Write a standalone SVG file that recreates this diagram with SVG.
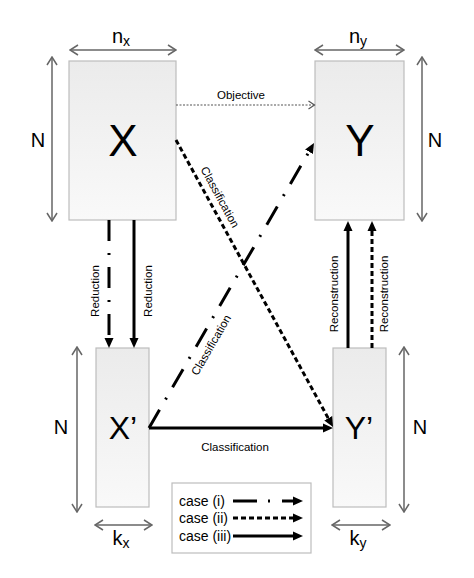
<svg xmlns="http://www.w3.org/2000/svg" width="474" height="578" viewBox="0 0 474 578">
<style>
text{font-family:"Liberation Sans",Arial,sans-serif;fill:#000}
.box{fill:url(#g);stroke:#bdbdbd;stroke-width:1.2}
.big{font-size:44px;text-anchor:middle}
.mid{font-size:32px;text-anchor:middle}
.dim{stroke:#666;stroke-width:1.5;fill:none;marker-start:url(#oa);marker-end:url(#oa)}
.dl{font-size:20px;text-anchor:middle}
.lab{font-size:11.5px;text-anchor:middle}
.leg{font-size:14px}
.c{stroke:#000;stroke-width:3;fill:none;marker-end:url(#ah)}
.dd{stroke-dasharray:21 12 2 12}
.dt{stroke-dasharray:5 3}
</style>
<defs>
<linearGradient id="g" x1="0" y1="0" x2="0" y2="1">
<stop offset="0" stop-color="#ebebeb"/>
<stop offset="1" stop-color="#f9f9f9"/>
</linearGradient>
<marker id="ah" markerUnits="userSpaceOnUse" viewBox="0 0 10 10" refX="2" refY="5" markerWidth="10" markerHeight="10" orient="auto">
<path d="M0,0.5 L10,5 L0,9.5 z" fill="#000"/>
</marker>
<marker id="oa" markerUnits="userSpaceOnUse" viewBox="0 0 10 12" refX="9" refY="6" markerWidth="10" markerHeight="12" orient="auto-start-reverse">
<path d="M1,1 L9,6 L1,11" fill="none" stroke="#666" stroke-width="1.5"/>
</marker>
<marker id="os" markerUnits="userSpaceOnUse" viewBox="0 0 8 10" refX="7.5" refY="5" markerWidth="8" markerHeight="10" orient="auto">
<path d="M1,1 L7,5 L1,9" fill="none" stroke="#555" stroke-width="1.2"/>
</marker>
</defs>

<g id="node-X">
<rect class="box" x="69" y="61" width="107" height="159"/>
<text class="big" x="123" y="156">X</text>
<line class="dim" x1="70" y1="50" x2="176" y2="50"/>
<text class="dl" x="121" y="43">n<tspan font-size="14" dy="3">x</tspan></text>
<line class="dim" x1="52" y1="57" x2="52" y2="221"/>
<text class="dl" x="38" y="147">N</text>
</g>

<g id="node-Y">
<rect class="box" x="315" y="61" width="89" height="159"/>
<text class="big" x="360" y="156">Y</text>
<line class="dim" x1="315" y1="50" x2="404" y2="50"/>
<text class="dl" x="358" y="43">n<tspan font-size="14" dy="3">y</tspan></text>
<line class="dim" x1="422" y1="57" x2="422" y2="221"/>
<text class="dl" x="435" y="147">N</text>
</g>

<g id="node-Xp">
<rect class="box" x="96" y="348" width="53" height="159"/>
<text class="mid" x="123" y="439">X’</text>
<line class="dim" x1="77" y1="347" x2="77" y2="512"/>
<text class="dl" x="61" y="434">N</text>
<line class="dim" x1="95" y1="525" x2="152" y2="525"/>
<text class="dl" x="121" y="545">k<tspan font-size="14" dy="3">x</tspan></text>
</g>

<g id="node-Yp">
<rect class="box" x="333" y="348" width="53" height="159"/>
<text class="mid" x="359" y="439">Y’</text>
<line class="dim" x1="404" y1="347" x2="404" y2="512"/>
<text class="dl" x="420" y="434">N</text>
<line class="dim" x1="332" y1="525" x2="390" y2="525"/>
<text class="dl" x="358" y="545">k<tspan font-size="14" dy="3">y</tspan></text>
</g>

<g id="connectors">
<line x1="176" y1="105" x2="315" y2="105" stroke="#555" stroke-width="1.2" stroke-dasharray="2 1.5" marker-end="url(#os)"/>
<text class="lab" x="241" y="99">Objective</text>

<line class="c dd" x1="109" y1="220" x2="109" y2="340"/>
<line class="c" x1="134" y1="220" x2="134" y2="340"/>
<text class="lab" transform="translate(99,291) rotate(-90)">Reduction</text>
<text class="lab" transform="translate(152,291) rotate(-90)">Reduction</text>

<line class="c" x1="348" y1="348" x2="348" y2="229"/>
<line class="c dt" x1="372" y1="348" x2="372" y2="229"/>
<text class="lab" transform="translate(338,294) rotate(-90)">Reconstruction</text>
<text class="lab" transform="translate(388,294) rotate(-90)">Reconstruction</text>

<line class="c" x1="149" y1="428" x2="325" y2="428"/>
<text class="lab" x="235" y="451">Classification</text>

<line class="c dd" x1="149" y1="428" x2="310" y2="150"/>
<text class="lab" transform="translate(214.5,347) rotate(-60)">Classification</text>

<line class="c dt" x1="176" y1="140" x2="329.2" y2="420"/>
<text class="lab" transform="translate(216.5,199) rotate(61.4)">Classification</text>
</g>

<g id="legend">
<rect x="172" y="483" width="139" height="70" fill="#fff" stroke="#bdbdbd" stroke-width="1.2"/>
<text class="leg" x="179" y="506">case (i)</text>
<text class="leg" x="179" y="523">case (ii)</text>
<text class="leg" x="179" y="541">case (iii)</text>
<line class="c" stroke-dasharray="24 11 2 12" x1="233" y1="501" x2="295" y2="501"/>
<line class="c dt" x1="233" y1="518" x2="295" y2="518"/>
<line class="c" x1="233" y1="536" x2="295" y2="536"/>
</g>
</svg>
